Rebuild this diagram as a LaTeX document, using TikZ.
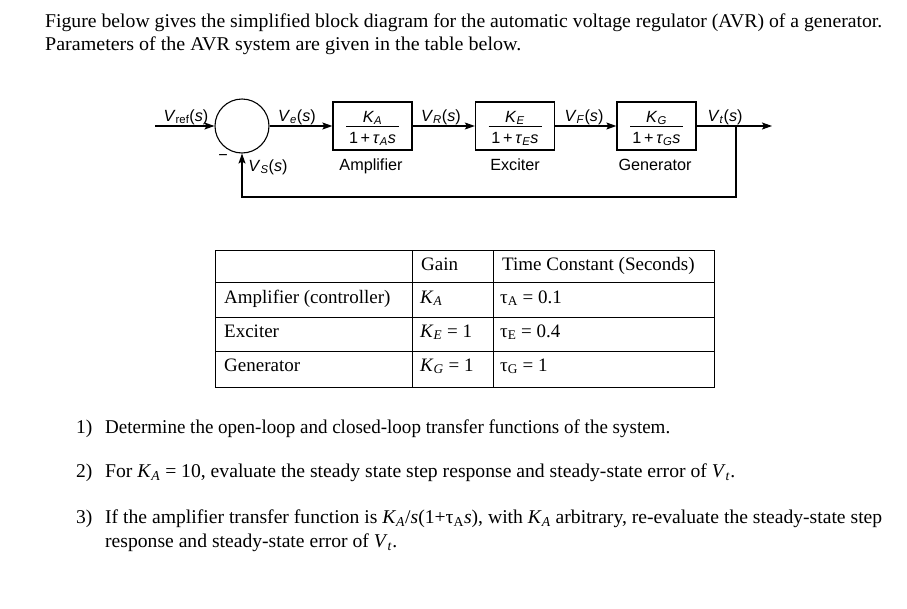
\documentclass[tikz,border=0pt]{standalone}
\usepackage{fontspec}
\usepackage{graphicx}
\setmainfont{Liberation Serif}
\newfontfamily\hvfont{Liberation Sans}
\usetikzlibrary{arrows.meta,calc}
\newcommand\sbs[1]{\textsubscript{#1}}
\newcommand\fitw[2]{\resizebox{#1}{\height}{#2}}
\begin{document}
\begin{tikzpicture}[x=1pt,y=-1pt,
  txt/.style={anchor=base west, inner sep=0pt, font=\fontsize{19.5}{23}\selectfont},
  ttxt/.style={anchor=base west, inner sep=0pt, font=\fontsize{19}{23}\selectfont},
  lbl/.style={anchor=base, inner sep=0pt, font=\hvfont\fontsize{16.2}{19}\selectfont},
  blk/.style={draw, line width=1.3pt, minimum width=79pt, minimum height=48pt, inner sep=0pt},
  sig/.style={line width=1.1pt},
  arr/.style={sig, -{Stealth[length=10pt,width=7pt,inset=2pt]}},
  fbar/.style={line width=0.9pt},
  grid/.style={line width=0.9pt}
]
\fill[white] (0,0) rectangle (907,608);
\useasboundingbox (0,0) rectangle (907,608);

% header
\node[txt] (h1) at (45,27.5) {\fitw{837pt}{Figure below gives the simplified block diagram for the automatic voltage regulator (AVR) of a generator.}};
\node[txt] (h2) at (45,50) {\fitw{476pt}{Parameters of the AVR system are given in the table below.}};

% block diagram
\coordinate (in) at (155,126);
\node[circle, draw, line width=1.1pt, minimum size=54pt, inner sep=0pt] (sum) at (242,126) {};
\node[blk] (amp) at (372.5,126) {};
\node[blk] (exc) at (515,126) {};
\node[blk] (gen) at (656.5,126) {};
\coordinate (br) at (736,126);
\coordinate (out) at (772,126);
\coordinate (fbR) at (736,197);
\coordinate (fbL) at (sum.south |- fbR);

\draw[arr] (in) -- (sum.west);
\draw[arr] (sum.east) -- (amp.west);
\draw[arr] (amp.east) -- (exc.west);
\draw[arr] (exc.east) -- (gen.west);
\draw[arr] (gen.east) -- (out);
\draw[arr] (br) -- (fbR) -- (fbL) -- (sum.south);

% fractions
\foreach \b/\k in {amp/A, exc/E, gen/G}{
  \node[lbl] (num\b) at ($(\b.center)+(0,-4)$) {\textit{K}\sbs{\textit{\k}}};
  \draw[fbar] ($(\b.center)+(-26.5,0)$) -- ($(\b.center)+(26.5,0)$);
  \node[lbl] (den\b) at ($(\b.center)+(0,17)$) {1\,+\,\textit{τ}\sbs{\textit{\k}}\textit{s}};
}
\node[lbl] (capamp) at (371,170) {Amplifier};
\node[lbl] (capexc) at (515,170) {Exciter};
\node[lbl] (capgen) at (655,170) {Generator};

% signal labels
\node[lbl] (lref) at (186,121) {\textit{V}\sbs{ref}(\textit{s})};
\node[lbl] (le) at (297,121) {\textit{V}\sbs{\textit{e}}(\textit{s})};
\node[lbl] (lr) at (441,121) {\textit{V}\sbs{\textit{R}}(\textit{s})};
\node[lbl] (lf) at (584,121) {\textit{V}\sbs{\textit{F}}(\textit{s})};
\node[lbl] (lt) at (725,121) {\textit{V}\sbs{\textit{t}}(\textit{s})};
\node[lbl] (ls) at (268,171) {\textit{V}\sbs{\textit{S}}(\textit{s})};
\node[inner sep=0pt, font=\hvfont\fontsize{16.2}{19}\selectfont] (minus) at (223,158) {−};

% table
\draw[grid] (215,250) rectangle (714,387);
\draw[grid] (412,250) -- (412,387);
\draw[grid] (493,250) -- (493,387);
\draw[grid] (215,282) -- (714,282);
\draw[grid] (215,317) -- (714,317);
\draw[grid] (215,351) -- (714,351);
\node[ttxt] (tg) at (421,270) {Gain};
\node[ttxt] (tt) at (502,270) {Time Constant (Seconds)};
\node[ttxt] (ta) at (224,303) {Amplifier (controller)};
\node[ttxt] (tka) at (420,303) {\textit{K}\sbs{\textit{A}}};
\node[ttxt] (tta) at (500,303) {τ\sbs{A} = 0.1};
\node[ttxt] (te) at (224,337) {Exciter};
\node[ttxt] (tke) at (420,337) {\textit{K}\sbs{\textit{E}} = 1};
\node[ttxt] (tte) at (500,337) {τ\sbs{E} = 0.4};
\node[ttxt] (tgn) at (224,371) {Generator};
\node[ttxt] (tkg) at (420,371) {\textit{K}\sbs{\textit{G}} = 1};
\node[ttxt] (ttg) at (500,371) {τ\sbs{G} = 1};

% questions
\node[txt] (n1) at (76,433) {1)};
\node[txt] (q1) at (105,433) {\fitw{565pt}{Determine the open-loop and closed-loop transfer functions of the system.}};
\node[txt] (n2) at (76,477) {2)};
\node[txt] (q2) at (105,477) {\fitw{630pt}{For \textit{K}\sbs{\textit{A}} = 10, evaluate the steady state step response and steady-state error of \textit{V}\sbs{\textit{t}}.}};
\node[txt] (n3) at (76,523) {3)};
\node[txt] (q3) at (105,523) {\fitw{777pt}{If the amplifier transfer function is \textit{K}\sbs{\textit{A}}/\textit{s}(1+τ\sbs{A}\textit{s}), with \textit{K}\sbs{\textit{A}} arbitrary, re-evaluate the steady-state step}};
\node[txt] (q4) at (105,547) {\fitw{292pt}{response and steady-state error of \textit{V}\sbs{\textit{t}}.}};
\end{tikzpicture}
\end{document}
